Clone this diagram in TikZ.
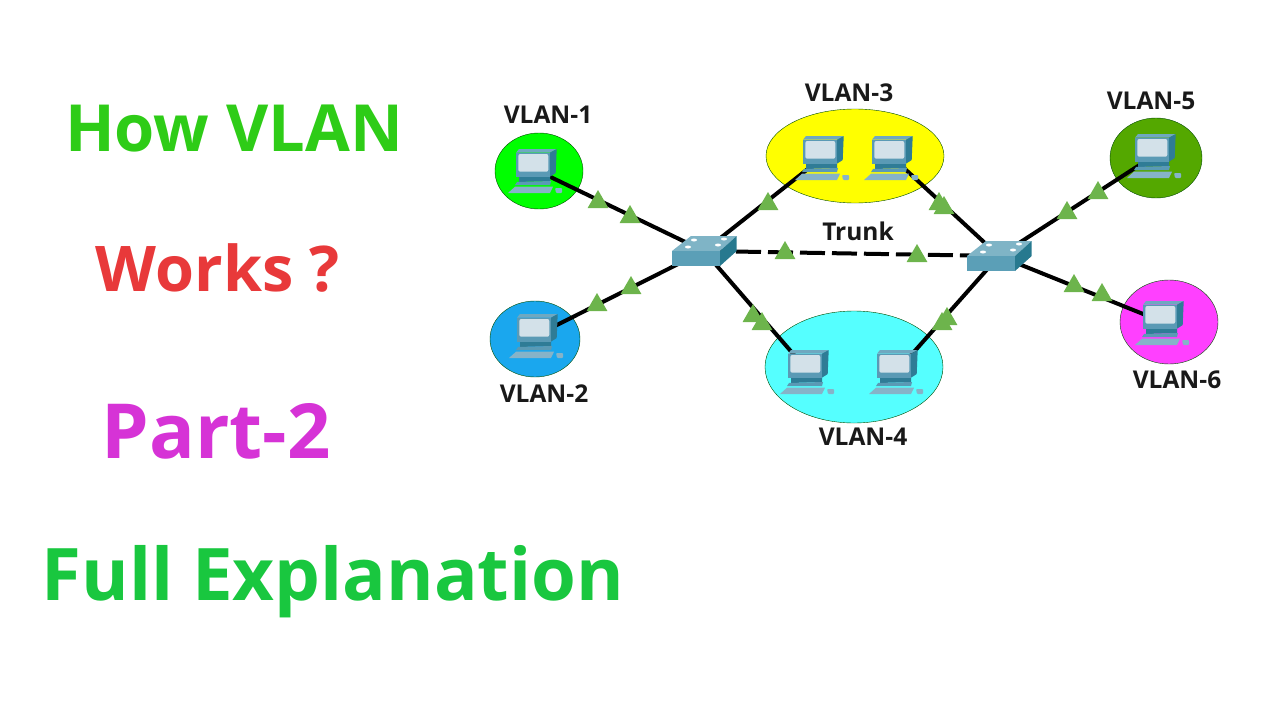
\documentclass[tikz,border=0pt]{standalone}
\usepackage{fontspec}
\setmainfont{Open Sans}
\usetikzlibrary{shapes.geometric}
\definecolor{pcframe}{HTML}{5A9AB5}
\definecolor{pcdark}{HTML}{2F7C96}
\definecolor{pctop}{HTML}{6FA8C0}
\definecolor{pclight}{HTML}{86B3C8}
\definecolor{pcscreen}{HTML}{D3E1E9}
\definecolor{swtop}{HTML}{7FB4C6}
\definecolor{swfront}{HTML}{5B9FB7}
\definecolor{swside}{HTML}{27798F}
\definecolor{ledgreen}{HTML}{6DB44C}
\tikzset{
	vlanzone/.style={ellipse,draw=black!70!green,thin,inner sep=0pt},
	vlanlabel/.style={font=\bfseries\fontsize{24.5}{24.5}\selectfont,text=black!90,inner sep=0pt},
	headline/.style={font=\bfseries\fontsize{#1}{#1}\selectfont,inner sep=0pt},
	linkled/.style={regular polygon,regular polygon sides=3,fill=ledgreen,inner sep=0pt,minimum size=24pt},
	wire/.style={line width=4pt,black},
	pcicon/.pic={
		\fill[pctop] (-20,-17.3) -- (-17,-21) -- (20.7,-21) -- (14,-17.3) -- cycle;
		\fill[pcdark] (14,-17.3) -- (20.7,-21) -- (19.7,3) -- (14,6.7) -- cycle;
		\fill[pcframe] (-20,-17.3) rectangle (14,7);
		\fill[pcscreen,rounded corners=2pt] (-17.7,-16) rectangle (12.3,1.7);
		\fill[pcdark] (-17,7) -- (14,7) -- (14,11) -- (-17,12) -- cycle;
		\fill[pcframe] (-19,12) -- (15,11) -- (14,15) -- (-21,15) -- cycle;
		\fill[pclight] (-21,16.7) -- (17,16.7) -- (14,23) -- (-28,23) -- cycle;
		\fill[pclight,rounded corners=1pt] (19,18) -- (26,18) -- (26,23) -- (20,23) -- cycle;
	},
	switchicon/.pic={
		\fill[swtop] (-32,0) -- (-13,-15) -- (32.7,-15) -- (16,0) -- cycle;
		\fill[swfront] (-32,0) rectangle (16,15);
		\fill[swside] (16,0) -- (32.7,-15) -- (32.7,0) -- (16,15) -- cycle;
		\fill[white] (-16,-4) ellipse (3 and 1.5);
		\fill[white] (14,-6) ellipse (3 and 1.5);
		\fill[white] (-10,-11) ellipse (3 and 1.5);
		\fill[white] (20,-12) ellipse (3 and 1.5);
	},
}
\begin{document}
\begin{tikzpicture}[x=1pt,y=-1pt]
	\useasboundingbox (0,0) rectangle (1280,720);

	\node[headline=65,text={rgb,255:red,46;green,204;blue,23}] (titlea) at (234,129) {How VLAN};
	\node[headline=63,text={rgb,255:red,232;green,57;blue,58}] (titleb) at (218,268) {Works ?};
	\node[headline=76,text={rgb,255:red,214;green,51;blue,214}] (titlec) at (216,431) {Part-2};
	\node[headline=72.5,text={rgb,255:red,25;green,199;blue,63}] (titled) at (333,582) {Full Explanation};

	\node[vlanzone,fill={rgb,255:red,0;green,255;blue,0},minimum width=88pt,minimum height=76pt] (zone1) at (539,171) {};
	\node[vlanzone,fill={rgb,255:red,26;green,167;blue,238},minimum width=90pt,minimum height=76pt] (zone2) at (535,339) {};
	\node[vlanzone,fill={rgb,255:red,255;green,255;blue,0},minimum width=178pt,minimum height=94pt] (zone3) at (855,156) {};
	\node[vlanzone,fill={rgb,255:red,85;green,255;blue,255},minimum width=178pt,minimum height=112pt] (zone4) at (854,367) {};
	\node[vlanzone,fill={rgb,255:red,84;green,168;blue,0},minimum width=92pt,minimum height=80pt] (zone5) at (1156,158) {};
	\node[vlanzone,fill={rgb,255:red,255;green,64;blue,255},minimum width=98pt,minimum height=84pt] (zone6) at (1169,322) {};

	\coordinate (pc1) at (536,170);
	\coordinate (pc2) at (537,335);
	\coordinate (pc3) at (823,157);
	\coordinate (pc4) at (892,157);
	\coordinate (pc5) at (808,371);
	\coordinate (pc6) at (897,371);
	\coordinate (pc7) at (1155,155);
	\coordinate (pc8) at (1163,322);
	\coordinate (sw1) at (704,251);
	\coordinate (sw2) at (999,256);

	\draw[wire] (pc1) -- (sw1);
	\draw[wire] (pc2) -- (sw1);
	\draw[wire] (pc3) -- (sw1);
	\draw[wire] (pc5) -- (sw1);
	\draw[wire] (pc4) -- (sw2);
	\draw[wire] (pc6) -- (sw2);
	\draw[wire] (pc7) -- (sw2);
	\draw[wire] (pc8) -- (sw2);
	\draw[wire,dash pattern=on 25pt off 7pt] (sw1) -- (sw2);

	\pic at (pc1) {pcicon};
	\pic at (pc2) {pcicon};
	\pic at (pc3) {pcicon};
	\pic at (pc4) {pcicon};
	\pic at (pc5) {pcicon};
	\pic at (pc6) {pcicon};
	\pic at (pc7) {pcicon};
	\pic at (pc8) {pcicon};
	\pic at (sw1) {switchicon};
	\pic at (sw2) {switchicon};

	\node[linkled] (led1) at (598,202) {};
	\node[linkled] (led2) at (630,217) {};
	\node[linkled] (led3) at (597,305) {};
	\node[linkled] (led4) at (631,288) {};
	\node[linkled] (led5) at (768,204) {};
	\node[linkled] (led6) at (753,316) {};
	\node[linkled] (led7) at (762,324) {};
	\node[linkled] (led8) at (939,204) {};
	\node[linkled] (led9) at (944,208) {};
	\node[linkled] (led10) at (947,319) {};
	\node[linkled] (led11) at (942,324) {};
	\node[linkled] (led12) at (785,253) {};
	\node[linkled] (led13) at (917,256) {};
	\node[linkled] (led14) at (1067,213) {};
	\node[linkled] (led15) at (1098,193) {};
	\node[linkled] (led16) at (1074,286) {};
	\node[linkled] (led17) at (1102,295) {};

	\node[vlanlabel] (name1) at (548,115) {VLAN-1};
	\node[vlanlabel] (name2) at (544,394) {VLAN-2};
	\node[vlanlabel] (name3) at (849,93) {VLAN-3};
	\node[vlanlabel] (name4) at (863,437) {VLAN-4};
	\node[vlanlabel] (name5) at (1151,101) {VLAN-5};
	\node[vlanlabel] (name6) at (1177,380) {VLAN-6};
	\node[vlanlabel] (trunk) at (858,231) {Trunk};
\end{tikzpicture}
\end{document}
